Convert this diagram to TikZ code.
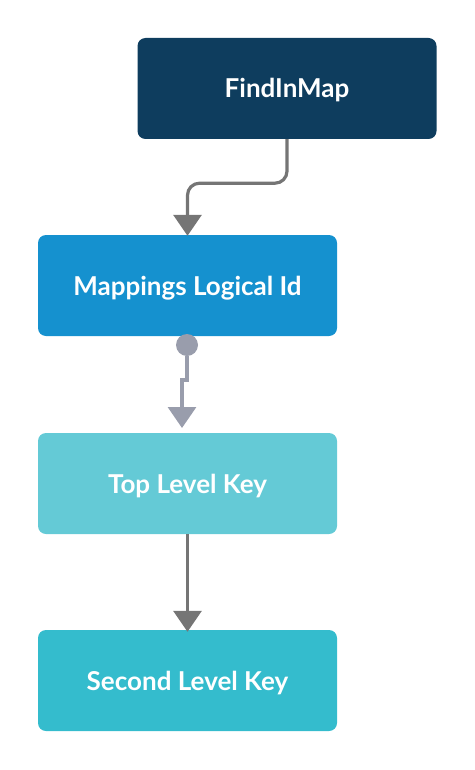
\documentclass[tikz,border=0pt]{standalone}
\usepackage{fontspec}
\setmainfont{Lato}
\usetikzlibrary{arrows.meta}

\tikzset{
  keybox/.style={rounded corners=8pt, minimum width=299pt, minimum height=101pt,
    text=white, font=\fontsize{26}{30}\selectfont\bfseries, inner sep=0pt,
    text height=19pt, text depth=0pt},
  link/.style={line width=3.2pt, draw=arrowgray, -{Triangle[width=28pt,length=21pt]}},
}
\definecolor{navy}{HTML}{0E3D5E}
\definecolor{mapblue}{HTML}{1591CF}
\definecolor{topteal}{HTML}{64CAD6}
\definecolor{secteal}{HTML}{34BCCD}
\definecolor{arrowgray}{HTML}{757575}
\definecolor{dotgray}{HTML}{999DAC}

\begin{document}
\begin{tikzpicture}[x=1pt, y=-1pt]
  \useasboundingbox (0, 0) rectangle (474, 770);

  \node[keybox, fill=navy] (find) at (287, 88.5) {FindInMap};
  \node[keybox, fill=mapblue] (map) at (187.5, 285.5) {Mappings Logical Id};
  \node[keybox, fill=topteal] (top) at (187.5, 483.5) {Top Level Key};
  \node[keybox, fill=secteal] (second) at (187.5, 680.5) {Second Level Key};

  % first link, bent
  \draw[link, rounded corners=12pt] (find.south) -- ++(0, 44) -| ([yshift=-1pt]map.north);

  % second link, from the dot
  \node[circle, fill=dotgray, minimum size=22pt, inner sep=0pt] (dot) at (187, 345) {};
  \draw[link, draw=dotgray] (dot.south) -- (187, 380) -- (182, 380) -- (182, 428);

  \draw[link] (top.south) -- ([yshift=-2pt]second.north);
\end{tikzpicture}
\end{document}
